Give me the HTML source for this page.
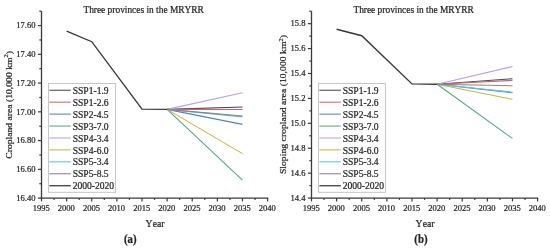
<!DOCTYPE html>
<html><head><meta charset="utf-8"><style>
html,body{margin:0;padding:0;background:#fff;}
svg{display:block;}
text{font-family:"Liberation Serif","Times New Roman",serif;fill:#222;font-kerning:none;stroke:#222;stroke-width:0.22px;}
</style></head><body>
<svg width="550" height="249" viewBox="0 0 550 249">
<rect width="550" height="249" fill="#fff"/>
<line x1="41.5" y1="11.2" x2="41.5" y2="198.7" stroke="#3a3a3a" stroke-width="1.3"/>
<line x1="40.9" y1="198.1" x2="268.20000000000005" y2="198.1" stroke="#3a3a3a" stroke-width="1.3"/>
<line x1="37.9" y1="198.10" x2="41.5" y2="198.10" stroke="#3a3a3a" stroke-width="1.2"/>
<g transform="translate(35.50,200.80) scale(0.94,1)"><text font-size="9.1" text-anchor="end" font-weight="normal" >16.40</text></g>
<line x1="37.9" y1="169.35" x2="41.5" y2="169.35" stroke="#3a3a3a" stroke-width="1.2"/>
<g transform="translate(35.50,172.05) scale(0.94,1)"><text font-size="9.1" text-anchor="end" font-weight="normal" >16.60</text></g>
<line x1="37.9" y1="140.59" x2="41.5" y2="140.59" stroke="#3a3a3a" stroke-width="1.2"/>
<g transform="translate(35.50,143.29) scale(0.94,1)"><text font-size="9.1" text-anchor="end" font-weight="normal" >16.80</text></g>
<line x1="37.9" y1="111.84" x2="41.5" y2="111.84" stroke="#3a3a3a" stroke-width="1.2"/>
<g transform="translate(35.50,114.54) scale(0.94,1)"><text font-size="9.1" text-anchor="end" font-weight="normal" >17.00</text></g>
<line x1="37.9" y1="83.08" x2="41.5" y2="83.08" stroke="#3a3a3a" stroke-width="1.2"/>
<g transform="translate(35.50,85.78) scale(0.94,1)"><text font-size="9.1" text-anchor="end" font-weight="normal" >17.20</text></g>
<line x1="37.9" y1="54.33" x2="41.5" y2="54.33" stroke="#3a3a3a" stroke-width="1.2"/>
<g transform="translate(35.50,57.03) scale(0.94,1)"><text font-size="9.1" text-anchor="end" font-weight="normal" >17.40</text></g>
<line x1="37.9" y1="25.58" x2="41.5" y2="25.58" stroke="#3a3a3a" stroke-width="1.2"/>
<g transform="translate(35.50,28.28) scale(0.94,1)"><text font-size="9.1" text-anchor="end" font-weight="normal" >17.60</text></g>
<line x1="39.3" y1="183.72" x2="41.5" y2="183.72" stroke="#3a3a3a" stroke-width="1.2"/>
<line x1="39.3" y1="154.97" x2="41.5" y2="154.97" stroke="#3a3a3a" stroke-width="1.2"/>
<line x1="39.3" y1="126.22" x2="41.5" y2="126.22" stroke="#3a3a3a" stroke-width="1.2"/>
<line x1="39.3" y1="97.46" x2="41.5" y2="97.46" stroke="#3a3a3a" stroke-width="1.2"/>
<line x1="39.3" y1="68.71" x2="41.5" y2="68.71" stroke="#3a3a3a" stroke-width="1.2"/>
<line x1="39.3" y1="39.95" x2="41.5" y2="39.95" stroke="#3a3a3a" stroke-width="1.2"/>
<line x1="39.3" y1="11.20" x2="41.5" y2="11.20" stroke="#3a3a3a" stroke-width="1.2"/>
<line x1="41.50" y1="198.1" x2="41.50" y2="201.4" stroke="#3a3a3a" stroke-width="1.2"/>
<g transform="translate(41.20,210.90) scale(0.94,1)"><text font-size="9.1" text-anchor="middle" font-weight="normal" >1995</text></g>
<line x1="66.62" y1="198.1" x2="66.62" y2="201.4" stroke="#3a3a3a" stroke-width="1.2"/>
<g transform="translate(66.32,210.90) scale(0.94,1)"><text font-size="9.1" text-anchor="middle" font-weight="normal" >2000</text></g>
<line x1="91.74" y1="198.1" x2="91.74" y2="201.4" stroke="#3a3a3a" stroke-width="1.2"/>
<g transform="translate(91.44,210.90) scale(0.94,1)"><text font-size="9.1" text-anchor="middle" font-weight="normal" >2005</text></g>
<line x1="116.87" y1="198.1" x2="116.87" y2="201.4" stroke="#3a3a3a" stroke-width="1.2"/>
<g transform="translate(116.57,210.90) scale(0.94,1)"><text font-size="9.1" text-anchor="middle" font-weight="normal" >2010</text></g>
<line x1="141.99" y1="198.1" x2="141.99" y2="201.4" stroke="#3a3a3a" stroke-width="1.2"/>
<g transform="translate(141.69,210.90) scale(0.94,1)"><text font-size="9.1" text-anchor="middle" font-weight="normal" >2015</text></g>
<line x1="167.11" y1="198.1" x2="167.11" y2="201.4" stroke="#3a3a3a" stroke-width="1.2"/>
<g transform="translate(166.81,210.90) scale(0.94,1)"><text font-size="9.1" text-anchor="middle" font-weight="normal" >2020</text></g>
<line x1="192.23" y1="198.1" x2="192.23" y2="201.4" stroke="#3a3a3a" stroke-width="1.2"/>
<g transform="translate(191.93,210.90) scale(0.94,1)"><text font-size="9.1" text-anchor="middle" font-weight="normal" >2025</text></g>
<line x1="217.36" y1="198.1" x2="217.36" y2="201.4" stroke="#3a3a3a" stroke-width="1.2"/>
<g transform="translate(217.06,210.90) scale(0.94,1)"><text font-size="9.1" text-anchor="middle" font-weight="normal" >2030</text></g>
<line x1="242.48" y1="198.1" x2="242.48" y2="201.4" stroke="#3a3a3a" stroke-width="1.2"/>
<g transform="translate(242.18,210.90) scale(0.94,1)"><text font-size="9.1" text-anchor="middle" font-weight="normal" >2035</text></g>
<line x1="267.60" y1="198.1" x2="267.60" y2="201.4" stroke="#3a3a3a" stroke-width="1.2"/>
<g transform="translate(267.30,210.90) scale(0.94,1)"><text font-size="9.1" text-anchor="middle" font-weight="normal" >2040</text></g>
<line x1="54.06" y1="198.1" x2="54.06" y2="199.9" stroke="#3a3a3a" stroke-width="1.2"/>
<line x1="79.18" y1="198.1" x2="79.18" y2="199.9" stroke="#3a3a3a" stroke-width="1.2"/>
<line x1="104.31" y1="198.1" x2="104.31" y2="199.9" stroke="#3a3a3a" stroke-width="1.2"/>
<line x1="129.43" y1="198.1" x2="129.43" y2="199.9" stroke="#3a3a3a" stroke-width="1.2"/>
<line x1="154.55" y1="198.1" x2="154.55" y2="199.9" stroke="#3a3a3a" stroke-width="1.2"/>
<line x1="179.67" y1="198.1" x2="179.67" y2="199.9" stroke="#3a3a3a" stroke-width="1.2"/>
<line x1="204.79" y1="198.1" x2="204.79" y2="199.9" stroke="#3a3a3a" stroke-width="1.2"/>
<line x1="229.92" y1="198.1" x2="229.92" y2="199.9" stroke="#3a3a3a" stroke-width="1.2"/>
<line x1="255.04" y1="198.1" x2="255.04" y2="199.9" stroke="#3a3a3a" stroke-width="1.2"/>
<g transform="translate(83.40,12.90) scale(0.94,1)"><text font-size="10" text-anchor="start" font-weight="normal" >Three provinces in the MRYRR</text></g>
<g transform="translate(145.60,226.90) scale(0.94,1)"><text font-size="10.4" text-anchor="start" font-weight="normal" >Year</text></g>
<text transform="translate(11.6,104.9) scale(0.94,1) rotate(-90)" font-size="9.65" text-anchor="middle">Cropland area (10,000 km<tspan dy="-3.5" font-size="6.5">2</tspan><tspan dy="3.5">)</tspan></text>
<rect x="48.5" y="83.5" width="66.9" height="108.8" fill="#fff" stroke="#c0c0c0" stroke-width="0.9"/>
<line x1="49.4" y1="90.25" x2="70.8" y2="90.25" stroke="#4a4a4a" stroke-width="1.05"/>
<g transform="translate(72.70,93.85) scale(0.94,1)"><text font-size="10.2" text-anchor="start" font-weight="normal" >SSP1-1.9</text></g>
<line x1="49.4" y1="102.18" x2="70.8" y2="102.18" stroke="#cc6470" stroke-width="1.05"/>
<g transform="translate(72.70,105.78) scale(0.94,1)"><text font-size="10.2" text-anchor="start" font-weight="normal" >SSP1-2.6</text></g>
<line x1="49.4" y1="114.11" x2="70.8" y2="114.11" stroke="#4f84c4" stroke-width="1.05"/>
<g transform="translate(72.70,117.71) scale(0.94,1)"><text font-size="10.2" text-anchor="start" font-weight="normal" >SSP2-4.5</text></g>
<line x1="49.4" y1="126.04" x2="70.8" y2="126.04" stroke="#52aa80" stroke-width="1.05"/>
<g transform="translate(72.70,129.64) scale(0.94,1)"><text font-size="10.2" text-anchor="start" font-weight="normal" >SSP3-7.0</text></g>
<line x1="49.4" y1="137.97" x2="70.8" y2="137.97" stroke="#c09ee2" stroke-width="1.05"/>
<g transform="translate(72.70,141.57) scale(0.94,1)"><text font-size="10.2" text-anchor="start" font-weight="normal" >SSP4-3.4</text></g>
<line x1="49.4" y1="149.90" x2="70.8" y2="149.90" stroke="#cdb443" stroke-width="1.05"/>
<g transform="translate(72.70,153.50) scale(0.94,1)"><text font-size="10.2" text-anchor="start" font-weight="normal" >SSP4-6.0</text></g>
<line x1="49.4" y1="161.83" x2="70.8" y2="161.83" stroke="#52c8d2" stroke-width="1.05"/>
<g transform="translate(72.70,165.43) scale(0.94,1)"><text font-size="10.2" text-anchor="start" font-weight="normal" >SSP5-3.4</text></g>
<line x1="49.4" y1="173.76" x2="70.8" y2="173.76" stroke="#8c8088" stroke-width="1.05"/>
<g transform="translate(72.70,177.36) scale(0.94,1)"><text font-size="10.2" text-anchor="start" font-weight="normal" >SSP5-8.5</text></g>
<line x1="49.4" y1="185.69" x2="70.8" y2="185.69" stroke="#4c4c4c" stroke-width="1.4"/>
<g transform="translate(72.70,189.29) scale(0.94,1)"><text font-size="10.2" text-anchor="start" font-weight="normal" >2000-2020</text></g>
<line x1="167.11" y1="109.40" x2="242.48" y2="107.00" stroke="#4a4a4a" stroke-width="1.1"/>
<line x1="167.11" y1="109.40" x2="242.48" y2="109.50" stroke="#cc6470" stroke-width="1.1"/>
<line x1="167.11" y1="109.40" x2="242.48" y2="124.40" stroke="#4f84c4" stroke-width="1.1"/>
<line x1="167.11" y1="109.40" x2="242.48" y2="180.20" stroke="#52aa80" stroke-width="1.1"/>
<line x1="167.11" y1="109.40" x2="242.48" y2="92.70" stroke="#c09ee2" stroke-width="1.1"/>
<line x1="167.11" y1="109.40" x2="242.48" y2="153.60" stroke="#cdb443" stroke-width="1.1"/>
<line x1="167.11" y1="109.40" x2="242.48" y2="116.90" stroke="#52c8d2" stroke-width="1.1"/>
<line x1="167.11" y1="109.40" x2="242.48" y2="116.00" stroke="#8c8088" stroke-width="1.1"/>
<polyline points="66.62,31.10 91.74,41.70 141.99,109.10 167.11,109.40" fill="none" stroke="#383838" stroke-width="1.4" stroke-linejoin="miter"/>
<line x1="311.5" y1="11.2" x2="311.5" y2="198.7" stroke="#3a3a3a" stroke-width="1.3"/>
<line x1="310.9" y1="198.1" x2="538.2" y2="198.1" stroke="#3a3a3a" stroke-width="1.3"/>
<line x1="307.9" y1="198.10" x2="311.5" y2="198.10" stroke="#3a3a3a" stroke-width="1.2"/>
<g transform="translate(305.50,200.80) scale(0.94,1)"><text font-size="9.1" text-anchor="end" font-weight="normal" >14.4</text></g>
<line x1="307.9" y1="173.18" x2="311.5" y2="173.18" stroke="#3a3a3a" stroke-width="1.2"/>
<g transform="translate(305.50,175.88) scale(0.94,1)"><text font-size="9.1" text-anchor="end" font-weight="normal" >14.6</text></g>
<line x1="307.9" y1="148.26" x2="311.5" y2="148.26" stroke="#3a3a3a" stroke-width="1.2"/>
<g transform="translate(305.50,150.96) scale(0.94,1)"><text font-size="9.1" text-anchor="end" font-weight="normal" >14.8</text></g>
<line x1="307.9" y1="123.34" x2="311.5" y2="123.34" stroke="#3a3a3a" stroke-width="1.2"/>
<g transform="translate(305.50,126.04) scale(0.94,1)"><text font-size="9.1" text-anchor="end" font-weight="normal" >15.0</text></g>
<line x1="307.9" y1="98.42" x2="311.5" y2="98.42" stroke="#3a3a3a" stroke-width="1.2"/>
<g transform="translate(305.50,101.12) scale(0.94,1)"><text font-size="9.1" text-anchor="end" font-weight="normal" >15.2</text></g>
<line x1="307.9" y1="73.50" x2="311.5" y2="73.50" stroke="#3a3a3a" stroke-width="1.2"/>
<g transform="translate(305.50,76.20) scale(0.94,1)"><text font-size="9.1" text-anchor="end" font-weight="normal" >15.4</text></g>
<line x1="307.9" y1="48.58" x2="311.5" y2="48.58" stroke="#3a3a3a" stroke-width="1.2"/>
<g transform="translate(305.50,51.28) scale(0.94,1)"><text font-size="9.1" text-anchor="end" font-weight="normal" >15.6</text></g>
<line x1="307.9" y1="23.66" x2="311.5" y2="23.66" stroke="#3a3a3a" stroke-width="1.2"/>
<g transform="translate(305.50,26.36) scale(0.94,1)"><text font-size="9.1" text-anchor="end" font-weight="normal" >15.8</text></g>
<line x1="309.3" y1="185.64" x2="311.5" y2="185.64" stroke="#3a3a3a" stroke-width="1.2"/>
<line x1="309.3" y1="160.72" x2="311.5" y2="160.72" stroke="#3a3a3a" stroke-width="1.2"/>
<line x1="309.3" y1="135.80" x2="311.5" y2="135.80" stroke="#3a3a3a" stroke-width="1.2"/>
<line x1="309.3" y1="110.88" x2="311.5" y2="110.88" stroke="#3a3a3a" stroke-width="1.2"/>
<line x1="309.3" y1="85.96" x2="311.5" y2="85.96" stroke="#3a3a3a" stroke-width="1.2"/>
<line x1="309.3" y1="61.04" x2="311.5" y2="61.04" stroke="#3a3a3a" stroke-width="1.2"/>
<line x1="309.3" y1="36.12" x2="311.5" y2="36.12" stroke="#3a3a3a" stroke-width="1.2"/>
<line x1="309.3" y1="11.20" x2="311.5" y2="11.20" stroke="#3a3a3a" stroke-width="1.2"/>
<line x1="311.50" y1="198.1" x2="311.50" y2="201.4" stroke="#3a3a3a" stroke-width="1.2"/>
<g transform="translate(311.20,210.90) scale(0.94,1)"><text font-size="9.1" text-anchor="middle" font-weight="normal" >1995</text></g>
<line x1="336.62" y1="198.1" x2="336.62" y2="201.4" stroke="#3a3a3a" stroke-width="1.2"/>
<g transform="translate(336.32,210.90) scale(0.94,1)"><text font-size="9.1" text-anchor="middle" font-weight="normal" >2000</text></g>
<line x1="361.74" y1="198.1" x2="361.74" y2="201.4" stroke="#3a3a3a" stroke-width="1.2"/>
<g transform="translate(361.44,210.90) scale(0.94,1)"><text font-size="9.1" text-anchor="middle" font-weight="normal" >2005</text></g>
<line x1="386.87" y1="198.1" x2="386.87" y2="201.4" stroke="#3a3a3a" stroke-width="1.2"/>
<g transform="translate(386.57,210.90) scale(0.94,1)"><text font-size="9.1" text-anchor="middle" font-weight="normal" >2010</text></g>
<line x1="411.99" y1="198.1" x2="411.99" y2="201.4" stroke="#3a3a3a" stroke-width="1.2"/>
<g transform="translate(411.69,210.90) scale(0.94,1)"><text font-size="9.1" text-anchor="middle" font-weight="normal" >2015</text></g>
<line x1="437.11" y1="198.1" x2="437.11" y2="201.4" stroke="#3a3a3a" stroke-width="1.2"/>
<g transform="translate(436.81,210.90) scale(0.94,1)"><text font-size="9.1" text-anchor="middle" font-weight="normal" >2020</text></g>
<line x1="462.23" y1="198.1" x2="462.23" y2="201.4" stroke="#3a3a3a" stroke-width="1.2"/>
<g transform="translate(461.93,210.90) scale(0.94,1)"><text font-size="9.1" text-anchor="middle" font-weight="normal" >2025</text></g>
<line x1="487.36" y1="198.1" x2="487.36" y2="201.4" stroke="#3a3a3a" stroke-width="1.2"/>
<g transform="translate(487.06,210.90) scale(0.94,1)"><text font-size="9.1" text-anchor="middle" font-weight="normal" >2030</text></g>
<line x1="512.48" y1="198.1" x2="512.48" y2="201.4" stroke="#3a3a3a" stroke-width="1.2"/>
<g transform="translate(512.18,210.90) scale(0.94,1)"><text font-size="9.1" text-anchor="middle" font-weight="normal" >2035</text></g>
<line x1="537.60" y1="198.1" x2="537.60" y2="201.4" stroke="#3a3a3a" stroke-width="1.2"/>
<g transform="translate(537.30,210.90) scale(0.94,1)"><text font-size="9.1" text-anchor="middle" font-weight="normal" >2040</text></g>
<line x1="324.06" y1="198.1" x2="324.06" y2="199.9" stroke="#3a3a3a" stroke-width="1.2"/>
<line x1="349.18" y1="198.1" x2="349.18" y2="199.9" stroke="#3a3a3a" stroke-width="1.2"/>
<line x1="374.31" y1="198.1" x2="374.31" y2="199.9" stroke="#3a3a3a" stroke-width="1.2"/>
<line x1="399.43" y1="198.1" x2="399.43" y2="199.9" stroke="#3a3a3a" stroke-width="1.2"/>
<line x1="424.55" y1="198.1" x2="424.55" y2="199.9" stroke="#3a3a3a" stroke-width="1.2"/>
<line x1="449.67" y1="198.1" x2="449.67" y2="199.9" stroke="#3a3a3a" stroke-width="1.2"/>
<line x1="474.79" y1="198.1" x2="474.79" y2="199.9" stroke="#3a3a3a" stroke-width="1.2"/>
<line x1="499.92" y1="198.1" x2="499.92" y2="199.9" stroke="#3a3a3a" stroke-width="1.2"/>
<line x1="525.04" y1="198.1" x2="525.04" y2="199.9" stroke="#3a3a3a" stroke-width="1.2"/>
<g transform="translate(353.40,12.90) scale(0.94,1)"><text font-size="10" text-anchor="start" font-weight="normal" >Three provinces in the MRYRR</text></g>
<g transform="translate(415.60,226.90) scale(0.94,1)"><text font-size="10.4" text-anchor="start" font-weight="normal" >Year</text></g>
<text transform="translate(285.8,104.55) scale(0.94,1) rotate(-90)" font-size="9.73" text-anchor="middle">Sloping cropland area (10,000 km<tspan dy="-3.5" font-size="6.5">2</tspan><tspan dy="3.5">)</tspan></text>
<rect x="318.5" y="83.5" width="66.9" height="108.8" fill="#fff" stroke="#c0c0c0" stroke-width="0.9"/>
<line x1="319.4" y1="90.25" x2="340.8" y2="90.25" stroke="#4a4a4a" stroke-width="1.05"/>
<g transform="translate(342.70,93.85) scale(0.94,1)"><text font-size="10.2" text-anchor="start" font-weight="normal" >SSP1-1.9</text></g>
<line x1="319.4" y1="102.18" x2="340.8" y2="102.18" stroke="#cc6470" stroke-width="1.05"/>
<g transform="translate(342.70,105.78) scale(0.94,1)"><text font-size="10.2" text-anchor="start" font-weight="normal" >SSP1-2.6</text></g>
<line x1="319.4" y1="114.11" x2="340.8" y2="114.11" stroke="#4f84c4" stroke-width="1.05"/>
<g transform="translate(342.70,117.71) scale(0.94,1)"><text font-size="10.2" text-anchor="start" font-weight="normal" >SSP2-4.5</text></g>
<line x1="319.4" y1="126.04" x2="340.8" y2="126.04" stroke="#52aa80" stroke-width="1.05"/>
<g transform="translate(342.70,129.64) scale(0.94,1)"><text font-size="10.2" text-anchor="start" font-weight="normal" >SSP3-7.0</text></g>
<line x1="319.4" y1="137.97" x2="340.8" y2="137.97" stroke="#c09ee2" stroke-width="1.05"/>
<g transform="translate(342.70,141.57) scale(0.94,1)"><text font-size="10.2" text-anchor="start" font-weight="normal" >SSP4-3.4</text></g>
<line x1="319.4" y1="149.90" x2="340.8" y2="149.90" stroke="#cdb443" stroke-width="1.05"/>
<g transform="translate(342.70,153.50) scale(0.94,1)"><text font-size="10.2" text-anchor="start" font-weight="normal" >SSP4-6.0</text></g>
<line x1="319.4" y1="161.83" x2="340.8" y2="161.83" stroke="#52c8d2" stroke-width="1.05"/>
<g transform="translate(342.70,165.43) scale(0.94,1)"><text font-size="10.2" text-anchor="start" font-weight="normal" >SSP5-3.4</text></g>
<line x1="319.4" y1="173.76" x2="340.8" y2="173.76" stroke="#8c8088" stroke-width="1.05"/>
<g transform="translate(342.70,177.36) scale(0.94,1)"><text font-size="10.2" text-anchor="start" font-weight="normal" >SSP5-8.5</text></g>
<line x1="319.4" y1="185.69" x2="340.8" y2="185.69" stroke="#4c4c4c" stroke-width="1.4"/>
<g transform="translate(342.70,189.29) scale(0.94,1)"><text font-size="10.2" text-anchor="start" font-weight="normal" >2000-2020</text></g>
<line x1="437.11" y1="84.30" x2="512.48" y2="78.70" stroke="#4a4a4a" stroke-width="1.1"/>
<line x1="437.11" y1="84.30" x2="512.48" y2="80.40" stroke="#cc6470" stroke-width="1.1"/>
<line x1="437.11" y1="84.30" x2="512.48" y2="92.70" stroke="#4f84c4" stroke-width="1.1"/>
<line x1="437.11" y1="84.30" x2="512.48" y2="138.40" stroke="#52aa80" stroke-width="1.1"/>
<line x1="437.11" y1="84.30" x2="512.48" y2="66.50" stroke="#c09ee2" stroke-width="1.1"/>
<line x1="437.11" y1="84.30" x2="512.48" y2="99.30" stroke="#cdb443" stroke-width="1.1"/>
<line x1="437.11" y1="84.30" x2="512.48" y2="92.20" stroke="#52c8d2" stroke-width="1.1"/>
<line x1="437.11" y1="84.30" x2="512.48" y2="85.80" stroke="#8c8088" stroke-width="1.1"/>
<polyline points="336.62,29.30 361.74,35.70 411.99,83.90 437.11,84.30" fill="none" stroke="#383838" stroke-width="1.4" stroke-linejoin="miter"/>
<g transform="translate(124.00,242.60) scale(0.94,1)"><text font-size="11.5" text-anchor="start" font-weight="bold" >(a)</text></g><g transform="translate(414.30,242.60) scale(0.94,1)"><text font-size="11.5" text-anchor="start" font-weight="bold" >(b)</text></g>
</svg>
</body></html>
